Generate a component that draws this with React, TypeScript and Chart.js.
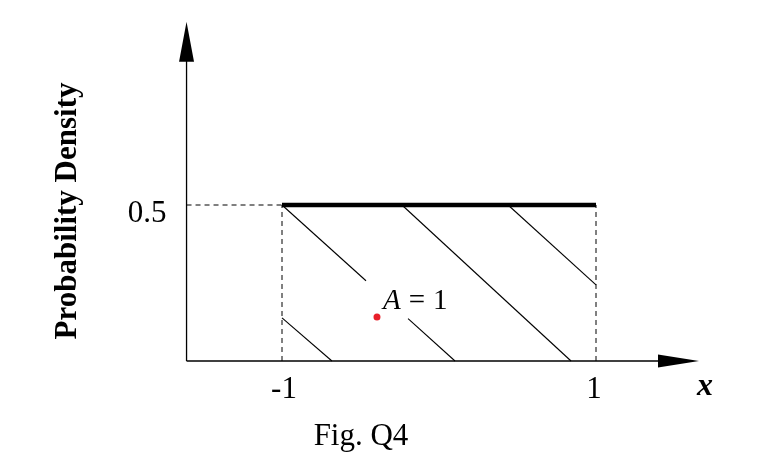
import React, { useEffect, useRef } from "react";
import { Chart, registerables } from "chart.js";

Chart.register(...registerables);

// ---- data ----
const densityRange = [-1, 1];
const densityValue = 0.5;
const xTickValues = [-1, 1];
const xTickLabels = ["-1", "1"];
const yTickValues = [0.5];
const yTickLabels = ["0.5"];
const areaLabel = "A = 1";
const areaPoint = { x: -0.395, y: 0.141 };
// hatch segments: [x1, y1, x2, y2]
const hatchSegments = [
  [-1, 0.5, -0.465, 0.2573],
  [-0.197, 0.1357, 0.102, 0],
  [-0.236, 0.5, 0.841, 0],
  [0.44, 0.5, 1, 0.244],
  [-1, 0.138, -0.682, 0],
];
const axisOriginX = -1.608;
const xArrowTip = 1.656;
const yArrowTip = 1.087;
const yAxisTitle = "Probability Density";
const xAxisTitle = "x";
const caption = "Fig. Q4";

const SERIF = '"Liberation Serif", "DejaVu Serif", serif';

export default function App() {
  const ref = useRef<HTMLCanvasElement | null>(null);

  useEffect(() => {
    const canvas = ref.current;
    if (!canvas) return;

    const line = (pts: { x: number; y: number }[], extra: any = {}) => ({
      type: "scatter",
      data: pts,
      showLine: true,
      borderColor: "#000",
      borderWidth: 1.2,
      pointRadius: 0,
      pointHoverRadius: 0,
      fill: false,
      ...extra,
    });

    const datasets: any[] = [];
    // axes
    datasets.push(line([{ x: axisOriginX, y: 0 }, { x: xArrowTip - 0.2, y: 0 }], { borderWidth: 1.3 }));
    datasets.push(line([{ x: axisOriginX, y: 0 }, { x: axisOriginX, y: yArrowTip - 0.12 }], { borderWidth: 1.3 }));
    // dashed guides
    datasets.push(line([{ x: axisOriginX, y: densityValue }, { x: densityRange[0], y: densityValue }], { borderDash: [5, 4], borderWidth: 1 }));
    datasets.push(line([{ x: densityRange[0], y: 0 }, { x: densityRange[0], y: densityValue }], { borderDash: [5, 4], borderWidth: 1 }));
    datasets.push(line([{ x: densityRange[1], y: 0 }, { x: densityRange[1], y: densityValue }], { borderDash: [5, 4], borderWidth: 1 }));
    // hatch
    hatchSegments.forEach((s) => {
      datasets.push(line([{ x: s[0], y: s[1] }, { x: s[2], y: s[3] }], { borderWidth: 1.1 }));
    });
    // density line
    datasets.push(line([{ x: densityRange[0], y: densityValue }, { x: densityRange[1], y: densityValue }], { borderWidth: 4.5, borderCapStyle: "butt" }));
    // red dot
    datasets.push({
      type: "scatter",
      data: [areaPoint],
      pointRadius: 3.5,
      pointHoverRadius: 3.5,
      pointBackgroundColor: "#e8202a",
      pointBorderWidth: 0,
      borderColor: "#e8202a",
    });

    const decor = {
      id: "decor",
      afterDatasetsDraw(chart: any) {
        const ctx = chart.ctx;
        const sx = chart.scales.x;
        const sy = chart.scales.y;
        const px = (v: number) => sx.getPixelForValue(v);
        const py = (v: number) => sy.getPixelForValue(v);
        ctx.save();
        ctx.fillStyle = "#000";
        // y arrow
        const ax = px(axisOriginX);
        ctx.beginPath();
        ctx.moveTo(ax, py(yArrowTip));
        ctx.lineTo(ax - 7.5, py(yArrowTip) + 40);
        ctx.lineTo(ax + 7.5, py(yArrowTip) + 40);
        ctx.closePath();
        ctx.fill();
        // x arrow
        const ay = py(0);
        ctx.beginPath();
        ctx.moveTo(px(xArrowTip), ay);
        ctx.lineTo(px(xArrowTip) - 41, ay - 6.5);
        ctx.lineTo(px(xArrowTip) - 41, ay + 6.5);
        ctx.closePath();
        ctx.fill();

        // tick labels
        ctx.font = `31px ${SERIF}`;
        ctx.textBaseline = "alphabetic";
        ctx.textAlign = "center";
        xTickValues.forEach((v, i) => {
          ctx.fillText(xTickLabels[i], px(v) + (v < 0 ? 2 : -2), ay + 37);
        });
        ctx.textAlign = "right";
        yTickValues.forEach((v, i) => {
          ctx.fillText(yTickLabels[i], ax - 20, py(v) + 17);
        });

        // x title
        ctx.font = `italic bold 32px ${SERIF}`;
        ctx.textAlign = "center";
        ctx.fillText(xAxisTitle, px(xArrowTip) + 6, ay + 34);

        // y title
        ctx.save();
        ctx.translate(ax - 111, py(densityValue) + 6);
        ctx.rotate(-Math.PI / 2);
        ctx.font = `bold 31px ${SERIF}`;
        ctx.textAlign = "center";
        ctx.fillText(yAxisTitle, 0, 0);
        ctx.restore();

        // area label
        const parts = areaLabel.split(" ");
        ctx.textAlign = "left";
        let lx = px(areaPoint.x) + 6;
        const ly = py(areaPoint.y) - 8;
        ctx.font = `italic 29px ${SERIF}`;
        ctx.fillText(parts[0], lx, ly);
        lx += ctx.measureText(parts[0]).width + 8;
        ctx.font = `29px ${SERIF}`;
        ctx.fillText(parts[1], lx, ly);
        lx += ctx.measureText(parts[1]).width + 8;
        ctx.fillText(parts[2], lx, ly);

        // caption
        ctx.font = `31px ${SERIF}`;
        ctx.textAlign = "center";
        ctx.fillText(caption, 361, 445);
        ctx.restore();
      },
    };

    const chart = new Chart(canvas, {
      type: "scatter",
      data: { datasets },
      options: {
        animation: false,
        responsive: false,
        maintainAspectRatio: false,
        layout: { padding: 0, autoPadding: false },
        plugins: { legend: { display: false }, tooltip: { enabled: false }, title: { display: false } },
        scales: {
          x: { type: "linear", display: false, min: -2.7962, max: 2.0828 },
          y: { type: "linear", display: false, min: -0.3622, max: 1.1571 },
        },
        elements: { line: { tension: 0 } },
      } as any,
      plugins: [decor],
    } as any);

    return () => chart.destroy();
  }, []);

  return (
    <div style={{ position: "absolute", left: 0, top: 0, width: 766, height: 474, background: "#fff" }}>
      <canvas ref={ref} width={766} height={474} style={{ display: "block", width: 766, height: 474 }} />
    </div>
  );
}
